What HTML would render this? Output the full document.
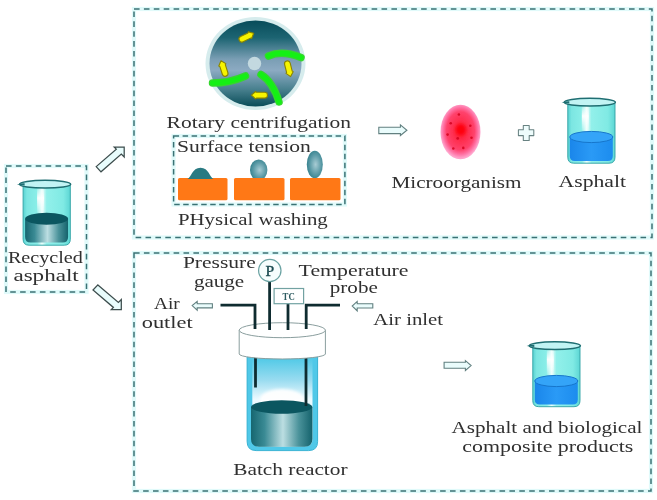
<!DOCTYPE html>
<html><head><meta charset="utf-8">
<style>
html,body{margin:0;padding:0;background:#fff;width:657px;height:500px;overflow:hidden}
svg{display:block;filter:blur(0.3px)}
.t{font-family:"Liberation Serif",serif;fill:#303030;font-size:17.5px}
</style></head><body>
<svg width="657" height="500" viewBox="0 0 657 500">
<defs>
  <linearGradient id="discG" x1="0" y1="0" x2="0" y2="1">
    <stop offset="0" stop-color="#084c5a"/>
    <stop offset="0.2" stop-color="#1c6472"/>
    <stop offset="0.45" stop-color="#7a9eb4"/>
    <stop offset="0.58" stop-color="#8caac2"/>
    <stop offset="0.8" stop-color="#48808e"/>
    <stop offset="1" stop-color="#094c58"/>
  </linearGradient>

  <linearGradient id="glassG" x1="0" y1="0" x2="1" y2="0">
    <stop offset="0" stop-color="#58d2d2"/>
    <stop offset="0.08" stop-color="#7ce6e2"/>
    <stop offset="0.3" stop-color="#8aeee8"/>
    <stop offset="0.4" stop-color="#eefffc"/>
    <stop offset="0.5" stop-color="#92f0ea"/>
    <stop offset="0.85" stop-color="#80eae4"/>
    <stop offset="1" stop-color="#5cd6d4"/>
  </linearGradient>
  <linearGradient id="hiG" x1="0" y1="0" x2="0" y2="1">
    <stop offset="0" stop-color="#ffffff" stop-opacity="0.2"/>
    <stop offset="0.35" stop-color="#ffffff" stop-opacity="0.95"/>
    <stop offset="1" stop-color="#ffffff" stop-opacity="0"/>
  </linearGradient>
  <linearGradient id="tarG" x1="0" y1="0" x2="1" y2="0">
    <stop offset="0" stop-color="#16606c"/>
    <stop offset="0.25" stop-color="#4a9098"/>
    <stop offset="0.5" stop-color="#b8dcde"/>
    <stop offset="0.75" stop-color="#5a9ca2"/>
    <stop offset="1" stop-color="#17606a"/>
  </linearGradient>
  <linearGradient id="blueG" x1="0" y1="0" x2="1" y2="0">
    <stop offset="0" stop-color="#1a86ea"/>
    <stop offset="0.5" stop-color="#2a9af6"/>
    <stop offset="1" stop-color="#1c8cee"/>
  </linearGradient>
  <radialGradient id="dropG" cx="0.55" cy="0.5" r="0.6">
    <stop offset="0" stop-color="#a8ccd4"/>
    <stop offset="0.6" stop-color="#5a9aa6"/>
    <stop offset="1" stop-color="#2e7c88"/>
  </radialGradient>
  <radialGradient id="microG" cx="0.5" cy="0.48" r="0.5">
    <stop offset="0" stop-color="#ff1424"/>
    <stop offset="0.35" stop-color="#ff2c4c"/>
    <stop offset="0.7" stop-color="#ff426c"/>
    <stop offset="0.86" stop-color="#ff70a2"/>
    <stop offset="1" stop-color="#ffa4cc"/>
  </radialGradient>
  <linearGradient id="vesselG" x1="0" y1="0" x2="0" y2="1">
    <stop offset="0" stop-color="#3cc4e4"/>
    <stop offset="0.3" stop-color="#9adcf0"/>
    <stop offset="0.5" stop-color="#ecfaff"/>
    <stop offset="1" stop-color="#cfeff8"/>
  </linearGradient>
  <filter id="blur1" x="-20%" y="-20%" width="140%" height="140%"><feGaussianBlur stdDeviation="0.6"/></filter>
  <filter id="blur2" x="-50%" y="-50%" width="200%" height="200%"><feGaussianBlur stdDeviation="1.5"/></filter>
  <g id="beaker">
    <path d="M0,4 L47.2,4 L47.2,59.2 Q47.2,65.2 41.2,65.2 L6,65.2 Q0,65.2 0,59.2 Z" fill="url(#glassG)" stroke="#3aa8aa" stroke-width="1"/>
    <rect x="14" y="9" width="7" height="26" fill="url(#hiG)" filter="url(#blur1)"/>
    <ellipse cx="22" cy="4.2" rx="25.6" ry="3.9" fill="#c2f4f4" stroke="#1f6e72" stroke-width="1.5"/>
    <path d="M-6.2,4.6 Q-2,3 1.5,3.2 L1.5,5.4 Q-2,5.2 -6.2,4.6 Z" fill="#1f6e72"/>
  </g>
  <linearGradient id="tarG2" x1="0" y1="0" x2="1" y2="0">
    <stop offset="0" stop-color="#166670"/>
    <stop offset="0.22" stop-color="#3a8a94"/>
    <stop offset="0.52" stop-color="#bcdee2"/>
    <stop offset="0.78" stop-color="#4a929a"/>
    <stop offset="1" stop-color="#14626c"/>
  </linearGradient>
</defs>

<!-- dashed boxes: halo -->
<g fill="none" stroke="#e0fafa" stroke-width="4.2">
  <rect x="6" y="166" width="80.5" height="126"/>
  <rect x="134" y="9" width="518" height="228.5"/>
  <rect x="134" y="253" width="517" height="238"/>
  <rect x="173.6" y="136" width="171.3" height="68.5"/>
</g>
<g fill="none" stroke="#3a7274" stroke-width="1.5" stroke-dasharray="5.6 4.3" stroke-linecap="butt">
  <rect x="6" y="166" width="80.5" height="126"/>
  <rect x="134" y="9" width="518" height="228.5"/>
  <rect x="134" y="253" width="517" height="238"/>
  <rect x="173.6" y="136" width="171.3" height="68.5" stroke-dasharray="5.5 3.5"/>
</g>

<!-- disc -->
<ellipse cx="255.5" cy="63.5" rx="50" ry="46.5" fill="#d6eced" filter="url(#blur1)"/>
<ellipse cx="255.5" cy="63.5" rx="46" ry="43" fill="url(#discG)"/>
<circle cx="254.5" cy="63.5" r="6.7" fill="#c3d9e0"/>



<!-- reactor -->
<path d="M247.1,352 V441.6 Q247.1,450.6 256.1,450.6 H308.6 Q317.6,450.6 317.6,441.6 V352 Z" fill="#50c8e8" stroke="#2eaed0" stroke-width="0.9"/>
<path d="M252.3,352 V439 Q252.3,446.5 259.8,446.5 H305 Q312.5,446.5 312.5,439 V352 Z" fill="url(#vesselG)"/>
<ellipse cx="282" cy="399" rx="22" ry="10" fill="#ffffff" opacity="0.95" filter="url(#blur2)"/>
<path d="M251,407 V438.7 Q251,446.7 259,446.7 H304.4 Q312.4,446.7 312.4,438.7 V407 Z" fill="url(#tarG2)"/>
<ellipse cx="281.7" cy="407" rx="30.7" ry="6.8" fill="#0b5660"/>
<g stroke="#0f2c30" stroke-width="2.8" fill="none">
  <path d="M255.5,352 V387.5"/>
  <path d="M306,352 V406"/>
</g>
<!-- lid -->
<path d="M239.2,330.2 V354 A43.1,5 0 0 0 325.4,354 V330.2 Z" fill="#ffffff" stroke="#8a9e9e" stroke-width="1"/>
<ellipse cx="282.3" cy="330.2" rx="43.1" ry="7.5" fill="#ffffff" stroke="#8a9e9e" stroke-width="1"/>
<g stroke="#0f2c30" stroke-width="2.8" fill="none" stroke-linejoin="miter">
  <path d="M220.5,305.2 H255 V329"/>
  <path d="M269.6,281.5 V330"/>
  <path d="M288,303.7 V330"/>
  <path d="M340,305.2 H306.2 V329"/>
</g>
<circle cx="269.8" cy="270.5" r="11.2" fill="#f6fdfd" stroke="#6aa2a2" stroke-width="1.2"/>
<text x="269.8" y="276.3" text-anchor="middle" font-family="Liberation Serif" font-size="15.5" fill="#1d4c52" stroke="#1d4c52" stroke-width="0.45">P</text>
<rect x="274.1" y="288.5" width="29.5" height="15.2" fill="#ffffff" stroke="#72a2a2" stroke-width="1.2"/>
<text x="288.7" y="300" text-anchor="middle" font-family="Liberation Serif" font-weight="bold" font-size="9.5" fill="#2c5a60" textLength="12.2" lengthAdjust="spacingAndGlyphs">TC</text>

<!-- disc contents -->
<g stroke-linecap="round" fill="none">
  <g stroke="#34d82c" stroke-width="7.5">
    <path d="M268.5,56 Q282,50 301,57.5"/>
    <path d="M212.5,83 Q230,83 245.5,76"/>
    <path d="M261,74.5 Q273,82 279,102"/>
  </g>
  <g stroke="#14f014" stroke-width="5">
    <path d="M268.5,56 Q282,50 301,57.5"/>
    <path d="M212.5,83 Q230,83 245.5,76"/>
    <path d="M261,74.5 Q273,82 279,102"/>
  </g>
  <g id="yarrows"></g>
</g>

<!-- beakers -->
<g transform="translate(23.1,180)">
  <use href="#beaker"/>
  <path d="M2,39 L2,57 Q2,62.5 7.5,62.5 L39.5,62.5 Q45,62.5 45,57 L45,39 Z" fill="url(#tarG2)"/>
  <ellipse cx="23.5" cy="38.8" rx="21.5" ry="6" fill="#0b5660"/>
</g>
<g transform="translate(567.8,98)">
  <use href="#beaker"/>
  <path d="M2,39 L2,58 Q2,63 7,63 L40,63 Q45,63 45,58 L45,39 Z" fill="url(#blueG)"/>
  <ellipse cx="23.5" cy="39" rx="21.5" ry="5.6" fill="#34a4f8" stroke="#1676cc" stroke-width="1"/>
</g>
<g transform="translate(532.8,341.5)">
  <use href="#beaker"/>
  <path d="M2,39 L2,58 Q2,63 7,63 L40,63 Q45,63 45,58 L45,39 Z" fill="url(#blueG)"/>
  <ellipse cx="23.5" cy="39.5" rx="21.5" ry="5.6" fill="#34a4f8" stroke="#1676cc" stroke-width="1"/>
</g>

<!-- surface tension blocks and drops -->
<ellipse cx="258.7" cy="170" rx="8.7" ry="10.5" fill="url(#dropG)"/>
<ellipse cx="314.8" cy="164.5" rx="8" ry="13.7" fill="url(#dropG)"/>
<g fill="#ff7816">
  <rect x="178" y="178" width="49.5" height="22.2" rx="1.5"/>
  <rect x="234" y="178" width="50.5" height="22.2" rx="1.5"/>
  <rect x="290" y="178" width="50.5" height="22.2" rx="1.5"/>
</g>
<path d="M187.5,179 C191.5,177.5 192,167.8 200.5,167.8 C209,167.8 209.5,177.5 213.5,179 Z" fill="#2a7a82"/>



<!-- microorganism -->
<ellipse cx="460.5" cy="132" rx="20" ry="27.2" fill="url(#microG)" filter="url(#blur1)"/>
<g fill="#d4001e" filter="url(#blur1)" opacity="0.85">
  <circle cx="458.9" cy="114.5" r="1.3"/><circle cx="450.7" cy="123.3" r="1.3"/><circle cx="470.3" cy="125.8" r="1.3"/>
  <circle cx="447.6" cy="134.6" r="1.3"/><circle cx="457.7" cy="138.4" r="1.4"/><circle cx="471.5" cy="137.8" r="1.3"/>
  <circle cx="453.3" cy="148.5" r="1.3"/><circle cx="463.3" cy="147.9" r="1.3"/>
</g>
<ellipse cx="460.8" cy="129.6" rx="5" ry="5.5" fill="#ff0010" filter="url(#blur2)"/>
<!-- plus -->
<path d="M523.3,125.5 H529.2 V129.7 H533.8 V135.6 H529.2 V140.5 H523.3 V135.6 H518.4 V129.7 H523.3 Z" fill="#eefcfc" stroke="#688282" stroke-width="1.05" stroke-linejoin="round"/>

<!-- small arrows -->
<g fill="#eafcfc" stroke="#628080" stroke-width="1.1" stroke-linejoin="miter">
  <path d="M378.8,127.2 H400.4 V124.9 L406.9,130.2 L400.4,135.5 V133.6 H378.8 Z"/>
  <path d="M444.1,362.2 H465.4 V360.7 L471.1,365.6 L465.4,370.5 V368.3 H444.1 Z"/>
  <path d="M212.4,303.7 H197.2 V301.4 L192.2,305.6 L197.2,310.2 V307.9 H212.4 Z"/>
  <path d="M372.8,303.7 H357.2 V301.4 L352.2,306 L357.2,311 V308 H372.8 Z"/>
</g>
<!-- diagonal arrows -->
<g fill="#e8fcfc" stroke="#3c4c4c" stroke-width="1.25" stroke-linejoin="miter">
  <path d="M96.2,166.6 L116.3,149.1 L114.2,147 L124.2,147 L124.2,157 L121.3,154.15 L101,171.8 Z"/>
  <path d="M97.9,284.9 L118.4,302.4 L121.3,299.5 L121.3,309.5 L111.3,309.5 L113.4,307.4 L93,290 Z"/>
</g>


<defs><path id="yarr" d="M0,0 L4.2,-3.7 L5,-2.9 L13.2,-2.9 A2.9,2.9 0 0 1 13.2,2.9 L5,2.9 L4.2,3.7 Z"/></defs>
<g fill="#f6f400" stroke="#8a8400" stroke-width="1.1" stroke-linejoin="round">
  <use href="#yarr" transform="translate(253.7,33.3) rotate(153.6)"/>
  <use href="#yarr" transform="translate(221,60.8) rotate(72)"/>
  <use href="#yarr" transform="translate(290.6,76.6) rotate(-104)"/>
  <use href="#yarr" transform="translate(251.4,95.2) rotate(0)"/>
</g>

<!-- text -->
<text class="t" x="166.6" y="127.8" textLength="184.4" lengthAdjust="spacingAndGlyphs">Rotary centrifugation</text>
<text class="t" x="177.0" y="152.4" textLength="133.8" lengthAdjust="spacingAndGlyphs">Surface tension</text>
<text class="t" x="178.0" y="225.4" textLength="149.8" lengthAdjust="spacingAndGlyphs">PHysical washing</text>
<text class="t" x="391.5" y="188.1" textLength="130.0" lengthAdjust="spacingAndGlyphs">Microorganism</text>
<text class="t" x="558.6" y="186.6" textLength="67.4" lengthAdjust="spacingAndGlyphs">Asphalt</text>
<text class="t" x="7.9" y="263.3" textLength="75.0" lengthAdjust="spacingAndGlyphs">Recycled</text>
<text class="t" x="13.4" y="281" textLength="65.4" lengthAdjust="spacingAndGlyphs">asphalt</text>
<text class="t" x="182.9" y="268" textLength="72.9" lengthAdjust="spacingAndGlyphs">Pressure</text>
<text class="t" x="193.9" y="287.2" textLength="50.3" lengthAdjust="spacingAndGlyphs">gauge</text>
<text class="t" x="298.6" y="275.5" textLength="109.9" lengthAdjust="spacingAndGlyphs">Temperature</text>
<text class="t" x="329.8" y="293" textLength="48.0" lengthAdjust="spacingAndGlyphs">probe</text>
<text class="t" x="154.0" y="308.5" textLength="25.7" lengthAdjust="spacingAndGlyphs">Air</text>
<text class="t" x="141.7" y="327.7" textLength="51.0" lengthAdjust="spacingAndGlyphs">outlet</text>
<text class="t" x="373.3" y="325.2" textLength="69.7" lengthAdjust="spacingAndGlyphs">Air inlet</text>
<text class="t" x="233.2" y="474.6" textLength="114.4" lengthAdjust="spacingAndGlyphs">Batch reactor</text>
<text class="t" x="451.6" y="432.5" textLength="190.8" lengthAdjust="spacingAndGlyphs">Asphalt and biological</text>
<text class="t" x="462.3" y="451.5" textLength="171.0" lengthAdjust="spacingAndGlyphs">composite products</text>

</svg>
</body></html>
